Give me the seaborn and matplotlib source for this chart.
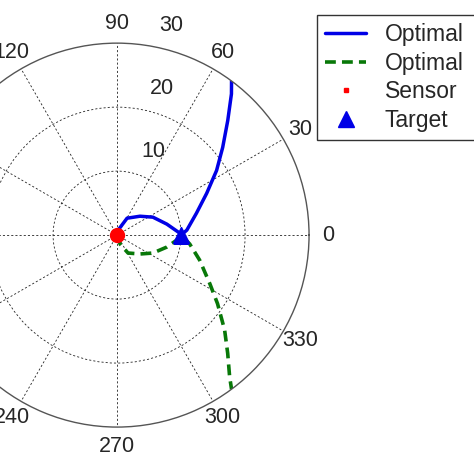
import matplotlib
matplotlib.use("Agg")
import matplotlib.pyplot as plt
import seaborn as sns
import numpy as np

# path 1 (solid blue), angle in degrees and range
blue_theta = [90, 78, 59.4, 39.5, 26.6, 12.4, 1.8, 0, 4.1, 15.4, 25.0, 33.0, 39.7, 46.0, 51.0, 53.4]
blue_r = [0, 0.8, 3.07, 4.64, 6.26, 7.97, 9.8, 10, 10.93, 12.86, 15.45, 18.54, 21.45, 24.9, 28.4, 30.0]

# path 2 (dashed green)
green_theta = [-90, -71.4, -58.6, -39.5, -26.6, -13.5, -4.8, 0, -7.0, -16.8, -27.7, -34.3, -41.4, -46.9, -51.5, -53.4]
green_r = [0, 1.48, 3.28, 4.64, 6.26, 8.0, 9.36, 10, 11.44, 13.47, 16.38, 19.0, 22.4, 25.3, 28.25, 30.0]

sensor_theta, sensor_r = [0], [0]
target_theta, target_r = [0], [10]

angle_ticks = list(range(0, 360, 30))
radial_ticks = [10, 20, 30]
legend_labels = ["Optimal", "Optimal", "Sensor", "Target"]

sns.set_style("white")
plt.rcParams["font.family"] = ["Liberation Sans", "DejaVu Sans"]

fig = plt.figure(figsize=(4.74, 4.74), dpi=100)
ax = fig.add_axes([-0.158, 0.099, 0.810, 0.810], projection="polar")

sns.lineplot(x=np.deg2rad(blue_theta), y=blue_r, sort=False, estimator=None,
             color="#0000e6", lw=2.5, label=legend_labels[0], ax=ax)
sns.lineplot(x=np.deg2rad(green_theta), y=green_r, sort=False, estimator=None,
             color="#087808", lw=2.6, linestyle=(0, (3, 1.7)), label=legend_labels[1], ax=ax)
ax.plot(np.deg2rad(sensor_theta), sensor_r, "o", color="red", ms=10, ls="none",
        label=legend_labels[2], zorder=5)
ax.plot(np.deg2rad(target_theta), target_r, "^", color="#0000e6", ms=11, ls="none",
        label=legend_labels[3], zorder=5)
if ax.get_legend() is not None:
    ax.get_legend().remove()

ax.set_ylim(0, 30)
ax.set_xticks(np.deg2rad(angle_ticks))
ax.set_xticklabels([])
ax.set_yticks(radial_ticks[:-1])
ax.set_yticklabels([])
ax.grid(True, color="#222222", linestyle=(0, (2.5, 2.5)), linewidth=0.6)
ax.spines["polar"].set_color("#555555")
ax.spines["polar"].set_linewidth(1.0)

for a in angle_ticks:
    ax.text(np.deg2rad(a), 33, str(a), ha="center", va="center", fontsize=15.5, clip_on=False)
for r in radial_ticks:
    ax.annotate(str(r), xy=(np.deg2rad(82), r), xytext=(27, 20), textcoords="offset pixels",
                ha="center", va="center", fontsize=15.5, annotation_clip=False)

handles, labels = ax.get_legend_handles_labels()
leg = fig.legend(handles, labels, loc="upper left", bbox_to_anchor=(0.669, 0.705, 0.5, 0.263),
                 mode="expand", fontsize=16.5, frameon=True, fancybox=False, framealpha=1,
                 edgecolor="#333333", handlelength=1.8, handletextpad=0.8,
                 labelspacing=0.24, borderpad=0.35, borderaxespad=0)
leg.get_frame().set_linewidth(1.0)
leg.legend_handles[2].set_marker("s")
leg.legend_handles[2].set_markersize(3.5)
leg.legend_handles[3].set_markersize(12)

fig.savefig("out.png", dpi=100)
